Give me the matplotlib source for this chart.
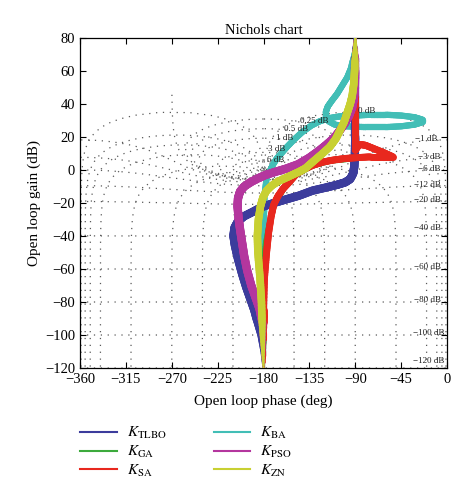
"""
Nichols chart of the closed-loop designs (TLBO, GA, SA, BA, PSO, ZN).
"""

import numpy as np
import matplotlib
matplotlib.use("Agg")
import matplotlib.pyplot as plt
from matplotlib.lines import Line2D
from matplotlib.collections import LineCollection

plt.rcParams["font.family"] = ["Liberation Serif", "DejaVu Serif"]
plt.rcParams["mathtext.fontset"] = "stix"

# open-loop response bands (phase in deg, gain in dB)
tlbo_phase = [-180, -181, -183, -186, -189, -193, -197, -201, -205, -208, -209.5,
              -208.5, -205, -199, -191, -182, -170, -159, -145, -132, -118, -108,
              -100, -95, -92, -91, -90.5, -90, -90]
tlbo_gain = [-120, -110, -100, -92, -85, -78, -71, -63, -54, -46, -40,
             -35, -31, -28, -25.5, -22.5, -20, -18, -15.5, -12.5, -10.5, -9,
             -7.5, -5.5, -2, 2, 8, 20, 80]

ga_phase = [-180, -180, -178, -175, -170, -160, -147, -132, -115, -98, -91, -90.5, -90]
ga_gain = [-120, -60, -45, -35, -22, -11, -2.5, 2.5, 5.5, 6.5, 7.5, 20, 80]

sa_phase = [-180, -180, -179, -177, -175, -172.5, -170, -166, -161, -155, -148,
            -140, -132, -122, -112, -100, -88, -75, -62, -53, -62, -72, -80,
            -86, -90, -90, -90, -90]
sa_gain = [-120, -85, -65, -50, -38, -28, -21, -16, -11.5, -7.5, -2.5,
           0.5, 2.8, 4.8, 6, 7, 7.5, 8, 8, 8, 10.5, 13, 15,
           15.5, 12, 25, 40, 80]

ba_phase = [-180, -180, -179, -177, -174, -171, -167, -162, -157, -150, -142,
            -133, -125, -115, -105, -90, -75, -60, -45, -32, -24, -24, -32,
            -45, -60, -80, -100, -110, -116, -119, -119, -117, -113, -108, -103,
            -98, -94, -92, -90.5, -90]
ba_gain = [-120, -40, -15, -5, -1, 3, 7, 10.5, 14, 18.5, 23,
           27, 29.5, 31.5, 32.5, 33, 33.5, 33.5, 33, 32, 30.5, 29, 27.5,
           26.5, 26, 26, 26.5, 27.5, 29.5, 32, 35, 38.5, 42, 46, 51,
           56, 62, 68, 74, 80]

pso_phase = [-180, -180.5, -181, -184, -188, -192, -196, -199, -201, -203, -204.5,
             -205.5, -205, -203, -199, -193, -186, -178, -169, -158, -146, -135,
             -125, -117, -110, -104, -100, -96, -93, -91.5, -90.5, -90, -90]
pso_gain = [-120, -105, -93, -84, -77, -70, -61, -52, -44, -36, -29,
            -22, -17, -13, -10, -7.5, -5.2, -3, -1.2, 0.8, 3.5, 7.5,
            12, 16, 20, 25, 28.5, 33, 38, 43, 48, 60, 80]

zn_phase = [-180, -181, -182, -183.5, -185.5, -186, -185, -183, -180.5, -177,
            -172, -166, -159, -152, -145, -139, -132, -124, -115, -109, -105,
            -101, -98, -95, -93, -91.5, -90.5, -90]
zn_gain = [-120, -100, -80, -65, -50, -40, -30, -22, -16.5, -12.5,
           -9.5, -7, -5, -3, -1, 1, 4.8, 9, 14, 19, 24,
           29, 34.5, 40, 45, 52, 62, 80]

series_labels = [r"$K_{\mathrm{TLBO}}$", r"$K_{\mathrm{GA}}$", r"$K_{\mathrm{SA}}$",
                 r"$K_{\mathrm{BA}}$", r"$K_{\mathrm{PSO}}$", r"$K_{\mathrm{ZN}}$"]
series_colors = ["#3c3c9c", "#3caa3c", "#e8281e", "#42beb6", "#b4369e", "#c8d032"]
band_widths = [6.0, 4.0, 5.0, 4.5, 6.0, 5.5]

# Nichols grid: closed-loop gain (dB) and phase (deg) contours
grid_gains = [6, 3, 1, 0.5, 0.25, 0, -1, -3, -6, -12, -20, -40, -60, -80, -100, -120]
grid_phases = [1, 5, 10, 20, 50, 90, 120, 150, 180]

gain_label_text = ["6 dB", "3 dB", "1 dB", "0.5 dB", "0.25 dB", "0 dB",
                   "\u22121 dB", "\u22123 dB", "\u22126 dB", "\u221212 dB", "\u221220 dB",
                   "\u221240 dB", "\u221260 dB", "\u221280 dB", "\u2212100 dB", "\u2212120 dB"]
gain_label_phase = [-168, -167, -159, -148, -130, -79,
                    -20, -17, -17, -19, -19, -19, -19, -19, -18, -18]
gain_label_gain = [6, 12.7, 19.4, 25, 30, 36,
                   18.8, 7.9, 0.6, -9, -18, -35, -59, -79, -99, -116]

GRID_STYLE = dict(color="#5a5a5a", lw=0.9, ls=(0, (1, 4.5)), zorder=1)


def plot_wrapped(ax, G):
    ph = np.degrees(np.angle(G))
    ph[ph > 0] -= 360
    gn = 20 * np.log10(np.abs(G))
    breaks = np.where(np.abs(np.diff(ph)) > 180)[0] + 1
    for p, g in zip(np.split(ph, breaks), np.split(gn, breaks)):
        ax.plot(p, g, **GRID_STYLE)


def draw_nichols_grid(ax):
    for m in grid_gains:
        M = 10 ** (m / 20)
        if m == 0:
            psi = np.radians(np.linspace(0.3, 359.7, 3000))
        else:
            psi = np.radians(np.linspace(0, 360, 3000))
        T = M * np.exp(1j * psi)
        plot_wrapped(ax, T / (1 - T))
    mags = np.logspace(-7, 5, 3000)
    for p in grid_phases:
        for s in ([1] if p == 180 else [1, -1]):
            T = mags * np.exp(1j * np.radians(s * p))
            plot_wrapped(ax, T / (1 - T))
    ax.plot(-180, 0, "+", color="#8a8a8a", ms=6, mew=0.8, zorder=1)
    for txt, x, y in zip(gain_label_text, gain_label_phase, gain_label_gain):
        ax.text(x, y, txt, fontsize=6.5, ha="center", va="center",
                color="#222222", zorder=20)


def draw_band(ax, ph, gn, color, width, z, nsub=10):
    # bundle of responses: narrow where the curves converge (top and bottom).
    # each read segment is drawn in short pieces so the width can vary.
    ph = np.asarray(ph, float)
    gn = np.asarray(gn, float)
    t = np.linspace(0, 1, nsub + 1)
    xs = np.concatenate([ph[i] + (ph[i + 1] - ph[i]) * t[:-1] for i in range(len(ph) - 1)] + [ph[-1:]])
    ys = np.concatenate([gn[i] + (gn[i + 1] - gn[i]) * t[:-1] for i in range(len(gn) - 1)] + [gn[-1:]])
    pts = np.column_stack([xs, ys])
    segs = np.stack([pts[:-1], pts[1:]], axis=1)
    mid = 0.5 * (ys[:-1] + ys[1:])
    scale = np.clip((mid + 120) / 40 + 0.25, 0.25, 1.0)
    scale = np.minimum(scale, np.clip((80 - mid) / 22 + 0.3, 0.3, 1.0))
    lc = LineCollection(segs, colors=color, linewidths=width * scale,
                        capstyle="round", joinstyle="round", zorder=z)
    ax.add_collection(lc)


fig = plt.figure(figsize=(4.74, 4.99), dpi=100)
ax = fig.add_axes([0.1688, 0.2625, 0.7743, 0.6613])

draw_nichols_grid(ax)

# drawing order: BA at the back, ZN on top
curves = [
    (ba_phase, ba_gain, 3),
    (ga_phase, ga_gain, 1),
    (tlbo_phase, tlbo_gain, 0),
    (sa_phase, sa_gain, 2),
    (pso_phase, pso_gain, 4),
    (zn_phase, zn_gain, 5),
]
for z, (ph, gn, idx) in enumerate(curves):
    draw_band(ax, ph, gn, series_colors[idx], band_widths[idx], 3 + z)

ax.set_xlim(-360, 0)
ax.set_ylim(-120, 80)
ax.set_xticks(np.arange(-360, 1, 45))
ax.set_yticks(np.arange(-120, 81, 20))
ax.tick_params(direction="in", top=True, right=True, labelsize=10.5,
               length=4, width=0.8)
for sp in ax.spines.values():
    sp.set_linewidth(0.9)
ax.set_title("Nichols chart", fontsize=10.5, pad=3)
ax.set_xlabel("Open loop phase (deg)", fontsize=11, labelpad=6)
ax.set_ylabel("Open loop gain (dB)", fontsize=11, labelpad=3)

handles = [Line2D([], [], color=c, lw=1.5) for c in series_colors]
fig.legend(handles, series_labels,
           loc="upper left", bbox_to_anchor=(80 / 474, 1 - 425 / 499), ncol=2,
           frameon=False, fontsize=11, handlelength=2.4, handletextpad=0.65,
           columnspacing=3.1, labelspacing=0.18, borderpad=0, borderaxespad=0)

fig.savefig("out.png", dpi=100)
